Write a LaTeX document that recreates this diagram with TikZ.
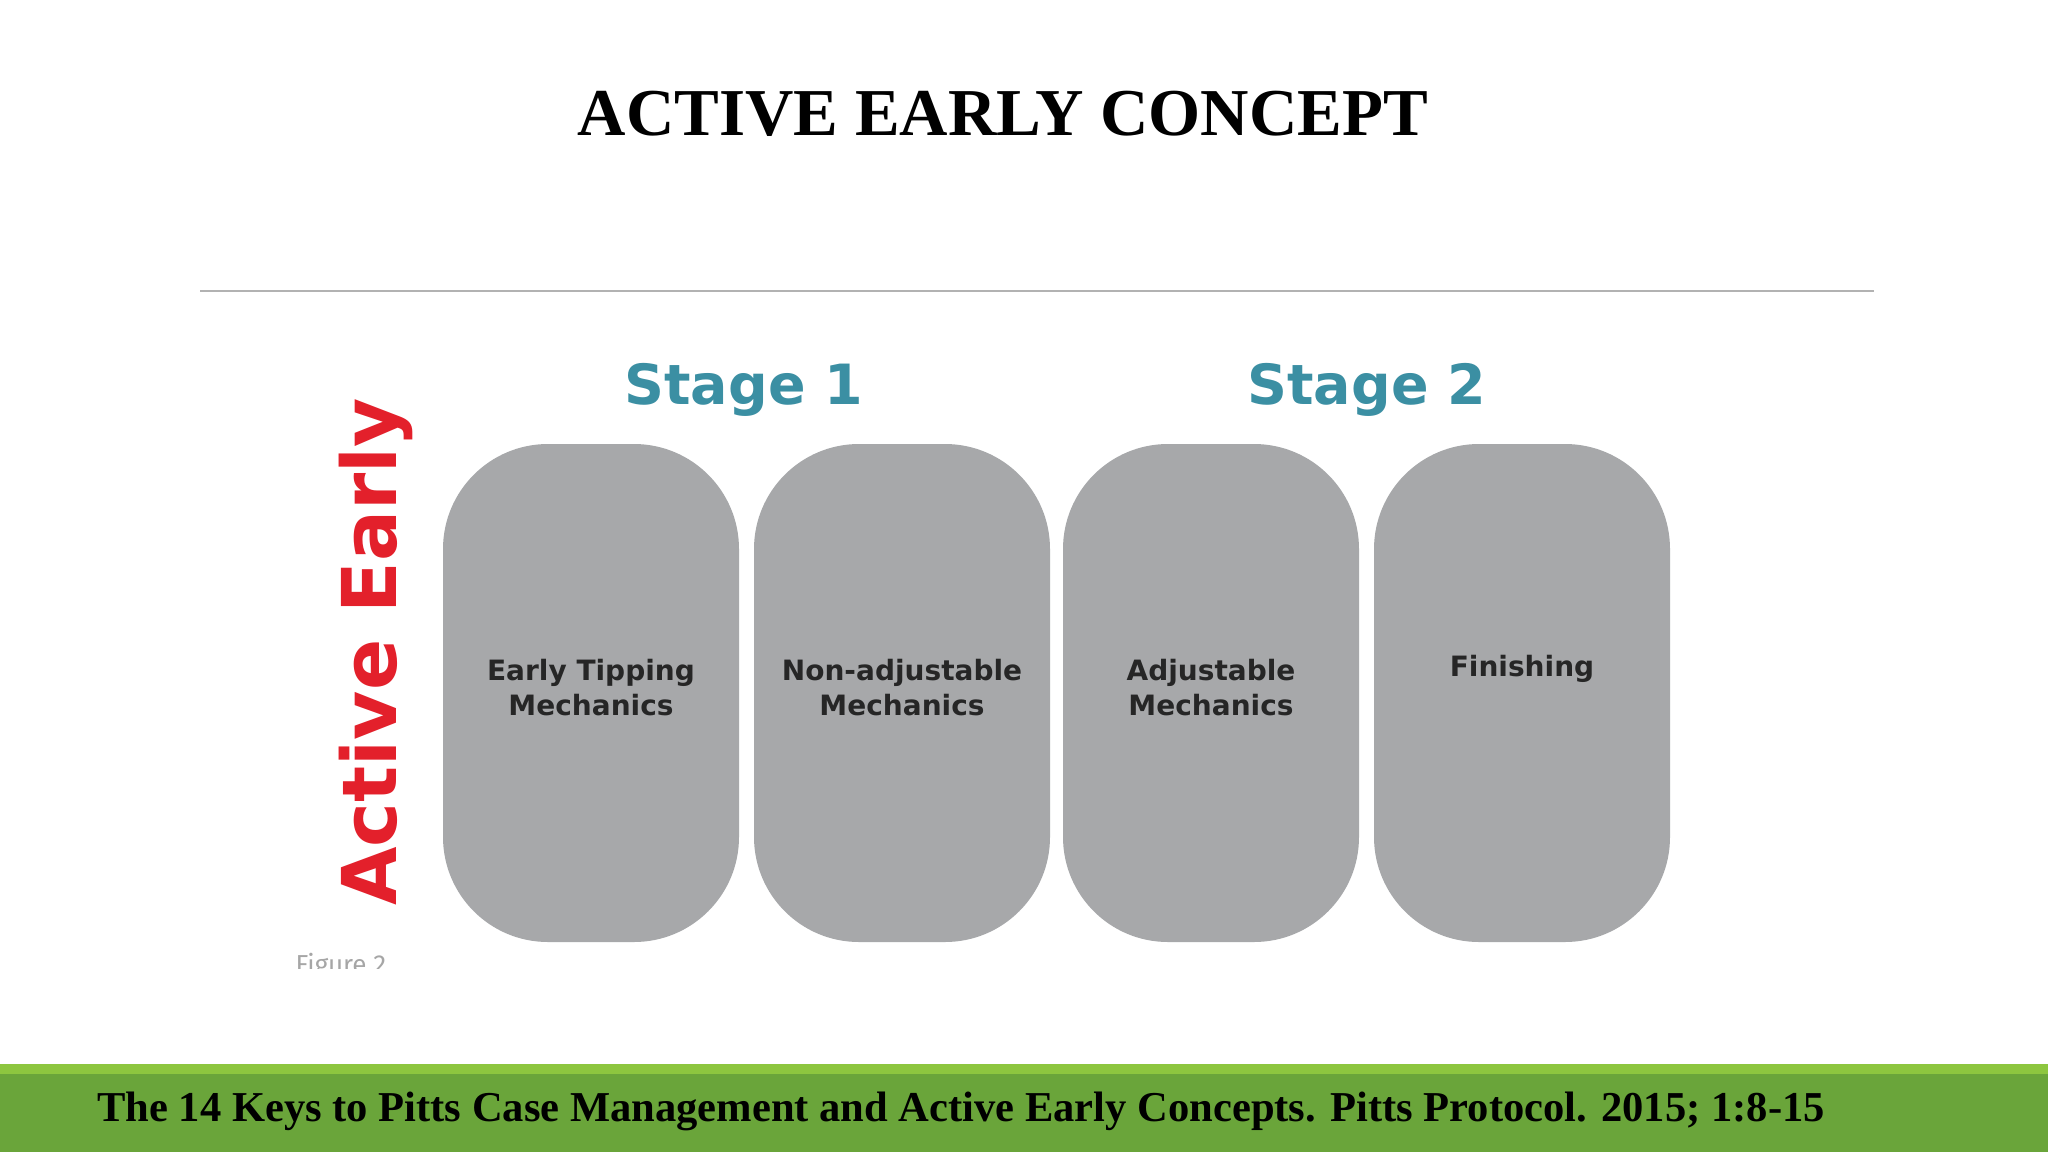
\documentclass[tikz,border=0pt]{standalone}
\usepackage{fontspec}
\setmainfont{Liberation Serif}
\newfontfamily\boxfont{DejaVu Sans}
\newfontfamily\figfont{Fira Sans}
\usepackage{graphicx}
\definecolor{teal1}{HTML}{3B8FA3}
\definecolor{gray1}{HTML}{A7A8AA}
\definecolor{red1}{HTML}{E3202B}
\definecolor{lgreen}{HTML}{8DC63F}
\definecolor{dgreen}{HTML}{6AA53A}
\begin{document}
\begin{tikzpicture}[x=1pt,y=-1pt,
  stagebox/.style={fill=gray1,rounded corners=105pt,minimum width=296pt,minimum height=498pt,inner sep=0pt},
  boxlabel/.style={font=\boxfont\bfseries\fontsize{28}{35}\selectfont,align=center,text=black!85},
  stagelabel/.style={text=teal1,inner sep=0pt}]
\useasboundingbox[fill=white] (0,0) rectangle (2048,1152);
\node[font=\bfseries\fontsize{67}{80}\selectfont] (title) at (1003,114) {ACTIVE EARLY CONCEPT};
\draw[gray!60,line width=1.5pt] (200,291) -- (1874,291);
\node[stagebox] (b1) at (591,693) {};
\node[stagebox] (b2) at (902,693) {};
\node[stagebox] (b3) at (1211,693) {};
\node[stagebox] (b4) at (1522,693) {};
\node[boxlabel] (t1) at (591,688) {Early Tipping\\Mechanics};
\node[boxlabel] (t2) at (902,688) {Non-adjustable\\Mechanics};
\node[boxlabel] (t3) at (1211,688) {Adjustable\\Mechanics};
\node[boxlabel,anchor=north] (t4) at (1522,652) {Finishing};
\node[stagelabel] (s1) at (744,390) {\resizebox{239pt}{!}{\boxfont\bfseries Stage 1}};
\node[stagelabel] (s2) at (1367,390) {\resizebox{239pt}{!}{\boxfont\bfseries Stage 2}};
\node[rotate=90,text=red1,inner sep=0pt] (ae) at (376,652) {\resizebox{507pt}{!}{\boxfont\bfseries Active Early}};
\begin{scope}
\clip (280,945) rectangle (440,968);
\node[text=gray!70,font=\figfont\fontsize{26}{28}\selectfont,anchor=west] (fig) at (292,966) {Figure 2};
\end{scope}
\fill[lgreen] (0,1064) rectangle (2048,1074);
\fill[dgreen] (0,1074) rectangle (2048,1152);
\node[inner sep=0pt] (ref) at (961,1111) {\resizebox{1727pt}{!}{\bfseries The 14 Keys to Pitts Case Management and Active Early Concepts. Pitts Protocol. 2015; 1:8-15}};
\end{tikzpicture}
\end{document}
